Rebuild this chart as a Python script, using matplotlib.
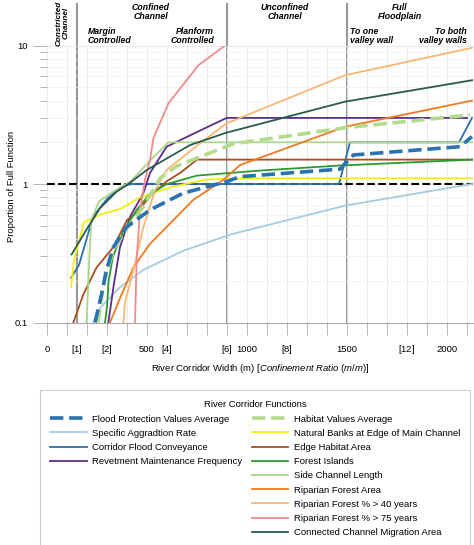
import numpy as np
import matplotlib
matplotlib.use("Agg")
import matplotlib.pyplot as plt
from matplotlib.lines import Line2D

plt.rcParams['font.family'] = ['Liberation Sans', 'DejaVu Sans']
plt.rcParams['mathtext.fontset'] = 'custom'
plt.rcParams['mathtext.rm'] = 'Liberation Sans'
plt.rcParams['mathtext.it'] = 'Liberation Sans:italic'

# river corridor width (m) / proportion of full function
flood_avg_x = [240, 273, 298, 332, 398, 515, 682, 898, 965, 1465, 1532, 2065, 2125]
flood_avg_y = [0.1, 0.16, 0.24, 0.35, 0.49, 0.65, 0.86, 1.04, 1.13, 1.28, 1.62, 1.86, 2.2]
aggrad_x = [232, 265, 365, 482, 682, 915, 965, 1495, 2125]
aggrad_y = [0.1, 0.127, 0.18, 0.24, 0.33, 0.43, 0.45, 0.70, 1.0]
convey_x = [120, 160, 230, 300, 370, 420, 1460, 1515, 2060, 2125]
convey_y = [0.21, 0.26, 0.58, 0.78, 0.95, 1.0, 1.0, 2.0, 2.0, 3.0]
revet_x = [307, 332, 365, 415, 482, 515, 598, 765, 898, 2100]
revet_y = [0.1, 0.18, 0.35, 0.58, 0.86, 1.2, 1.86, 2.43, 3.0, 3.0]
habitat_x = [255, 290, 340, 400, 480, 565, 650, 765, 930, 1495, 2115]
habitat_y = [0.1, 0.22, 0.35, 0.48, 0.68, 1.1, 1.35, 1.57, 1.95, 2.55, 3.15]
banks_x = [120, 135, 185, 265, 365, 465, 620, 800, 1000, 2130]
banks_y = [0.18, 0.28, 0.53, 0.60, 0.66, 0.80, 0.95, 1.08, 1.1, 1.1]
edge_x = [132, 182, 248, 332, 400, 450, 515, 600, 665, 750, 2130]
edge_y = [0.1, 0.16, 0.25, 0.35, 0.55, 0.62, 0.82, 1.05, 1.2, 1.5, 1.5]
islands_x = [290, 300, 308, 330, 380, 448, 515, 600, 750, 1065, 1465, 2130]
islands_y = [0.1, 0.13, 0.2, 0.3, 0.45, 0.65, 0.85, 1.0, 1.15, 1.25, 1.36, 1.5]
side_x = [198, 212, 222, 260, 330, 420, 520, 607, 2130]
side_y = [0.1, 0.3, 0.55, 0.75, 0.88, 1.05, 1.5, 2.0, 2.0]
forest_x = [315, 365, 432, 515, 598, 732, 882, 965, 1490, 2125]
forest_y = [0.1, 0.15, 0.25, 0.37, 0.49, 0.77, 1.07, 1.37, 2.59, 4.0]
f40_x = [382, 390, 432, 482, 540, 598, 765, 898, 965, 1490, 2130]
f40_y = [0.1, 0.14, 0.24, 0.49, 0.9, 1.26, 1.97, 2.74, 3.0, 6.1, 9.66]
f75_x = [440, 448, 465, 490, 515, 532, 607, 757, 890]
f75_y = [0.1, 0.28, 0.65, 1.07, 1.49, 2.14, 3.82, 7.2, 10.0]
migr_x = [123, 198, 265, 348, 407, 498, 715, 898, 1490, 2131]
migr_y = [0.31, 0.47, 0.67, 0.88, 1.0, 1.26, 1.91, 2.35, 3.93, 5.63]

ratio_pos = [150, 300, 600, 900, 1200, 1800]
ratio_lab = ['1', '2', '4', '6', '8', '12']
bounds = [150, 900, 1500]

fig = plt.figure(figsize=(4.74, 5.45), dpi=100)
ax = fig.add_axes([47/474, 1-322.5/545, 426/474, 277/545])
ax.set_yscale('log')
ax.set_xlim(0, 2130)
ax.set_ylim(0.1, 10)

ax.set_xticks(np.arange(0, 2101, 100))
ax.set_xticklabels([str(v) if v % 500 == 0 else '' for v in range(0, 2101, 100)])
ax.tick_params(axis='x', which='major', length=8.5, width=0.6, color='#aaaaaa', pad=7.5, labelsize=6.8)
for p, s in zip(ratio_pos, ratio_lab):
    ax.text(p, -0.0957, r'[$\it{%s}$]' % s, transform=ax.get_xaxis_transform(),
            ha='center', va='center', fontsize=6.8)
ax.set_yticks([0.1, 1, 10])
ax.set_yticklabels(['0.1', '1', '10'])
ax.tick_params(axis='y', which='major', length=10, width=0.6, color='#aaaaaa', pad=4, labelsize=6.8)
ax.tick_params(axis='y', which='minor', length=5, width=0.6, color='#aaaaaa', labelleft=False)
for s in ['top', 'right', 'left']:
    ax.spines[s].set_visible(False)
ax.spines['bottom'].set_color('#aaaaaa')
ax.spines['bottom'].set_linewidth(0.8)

ax.grid(True, which='major', color='#e6e6e6', lw=0.6)
ax.grid(True, which='minor', axis='y', color='#f0f0f0', lw=0.5)

for b in bounds:
    ax.plot([b, b], [0.1, 20], color='#999999', lw=1.5, clip_on=False, zorder=1)

ax.plot([0, 2130], [1, 1], color='black', lw=1.5, ls='--', zorder=2)

lw = 1.3
ax.plot(aggrad_x, aggrad_y, color='#a6cbe0', lw=lw)
ax.plot(convey_x, convey_y, color='#2a6fad', lw=lw)
ax.plot(revet_x, revet_y, color='#5a2d8c', lw=lw)
ax.plot(banks_x, banks_y, color='#f0f010', lw=lw)
ax.plot(edge_x, edge_y, color='#a5501e', lw=lw)
ax.plot(islands_x, islands_y, color='#2e9a2e', lw=lw)
ax.plot(side_x, side_y, color='#a9d68a', lw=lw)
ax.plot(forest_x, forest_y, color='#f07a1e', lw=lw)
ax.plot(f40_x, f40_y, color='#f9b872', lw=lw)
ax.plot(f75_x, f75_y, color='#f28a8c', lw=lw)
ax.plot(migr_x, migr_y, color='#2c5a4b', lw=lw)
ax.plot(habitat_x, habitat_y, color='#b2dc8c', lw=2.6, ls='--', clip_on=False)
ax.plot(flood_avg_x, flood_avg_y, color='#2a72b0', lw=2.6, ls='--', clip_on=False)

ax.set_xlabel(r'River Corridor Width (m) [$\it{Confinement\ Ratio\ (m/m)}$]', fontsize=6.8, labelpad=6)
fig.text(12/474, 1-186/545, 'Proportion of Full Function', rotation=90, fontsize=6.8,
         ha='center', va='center')

tk = dict(fontsize=6.3, fontweight='bold', style='italic', linespacing=1.0)
fig.text(63/474, 1-23/545, 'Constricted\nChannel', rotation=90, ha='center', va='center',
         fontsize=5.9, fontweight='bold', style='italic', linespacing=1.0)
fig.text(151/474, 1-12/545, 'Confined\nChannel', ha='center', va='center', **tk)
fig.text(88/474, 1-36/545, 'Margin\nControlled', ha='left', va='center', **tk)
fig.text(214/474, 1-36/545, 'Planform\nControlled', ha='right', va='center', **tk)
fig.text(285/474, 1-12/545, 'Unconfined\nChannel', ha='center', va='center', **tk)
fig.text(400/474, 1-12/545, 'Full\nFloodplain', ha='center', va='center', **tk)
fig.text(350/474, 1-36/545, 'To one\nvalley wall', ha='left', va='center', **tk)
fig.text(467/474, 1-36/545, 'To both\nvalley walls', ha='right', va='center', **tk)

blank = Line2D([], [], color='none')
handles = [
    Line2D([], [], color='#2a72b0', lw=2.6, ls='--'),
    Line2D([], [], color='#a6cbe0', lw=lw),
    Line2D([], [], color='#2a6fad', lw=lw),
    Line2D([], [], color='#5a2d8c', lw=lw),
    blank, blank, blank, blank, blank,
    Line2D([], [], color='#b2dc8c', lw=2.6, ls='--'),
    Line2D([], [], color='#f0f010', lw=lw),
    Line2D([], [], color='#a5501e', lw=lw),
    Line2D([], [], color='#2e9a2e', lw=lw),
    Line2D([], [], color='#a9d68a', lw=lw),
    Line2D([], [], color='#f07a1e', lw=lw),
    Line2D([], [], color='#f9b872', lw=lw),
    Line2D([], [], color='#f28a8c', lw=lw),
    Line2D([], [], color='#2c5a4b', lw=lw),
]
labels = ['Flood Protection Values Average', 'Specific Aggradtion Rate',
          'Corridor Flood Conveyance', 'Revetment Maintenance Frequency',
          '', '', '', '', '',
          'Habitat Values Average', 'Natural Banks at Edge of Main Channel',
          'Edge Habitat Area', 'Forest Islands', 'Side Channel Length',
          'Riparian Forest Area', 'Riparian Forest % > 40 years',
          'Riparian Forest % > 75 years', 'Connected Channel Migration Area']
leg = fig.legend(handles, labels, ncol=2, loc='upper left', borderaxespad=0,
                 bbox_to_anchor=(40/474, 1-390/545), title='River Corridor Functions',
                 fontsize=6.8, title_fontsize=6.8, handlelength=3.9, handletextpad=0.55,
                 labelspacing=0.55, columnspacing=0.95, borderpad=1.1, fancybox=False,
                 edgecolor='#cccccc', framealpha=1)
leg.get_frame().set_linewidth(0.8)

fig.savefig('out.png', dpi=100)
